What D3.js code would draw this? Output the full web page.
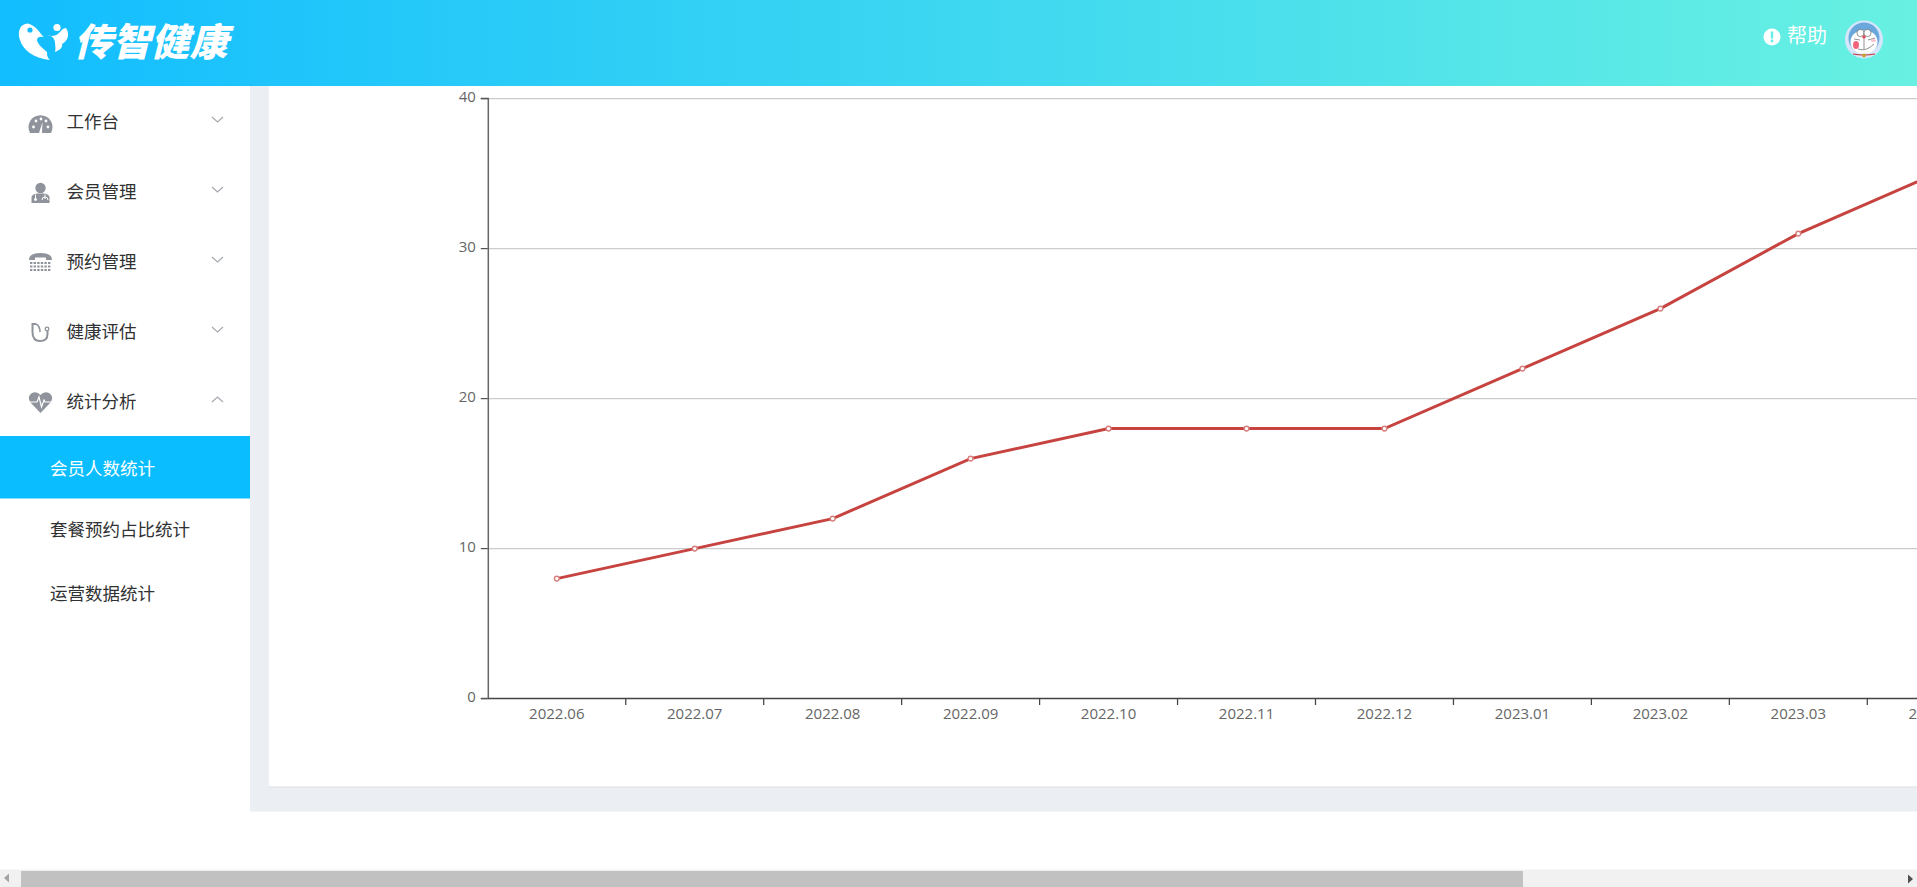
<!DOCTYPE html>
<html>
<head>
<meta charset="utf-8">
<title>会员人数统计</title>
<script src="https://cdn.jsdelivr.net/npm/d3@7"></script>
<style>
html, body { margin: 0; padding: 0; overflow: hidden; background: #fff; }
svg { display: block; font-family: "Noto Sans CJK SC", "Noto Sans", sans-serif; }
.tick-label { font-family: "Open Sans", "Noto Sans", sans-serif; font-size: 15px; fill: #666; }
</style>
</head>
<body>
<svg id="svg" width="1917" height="887"></svg>
<script>
// chart data
var months = ["2022.06","2022.07","2022.08","2022.09","2022.10","2022.11","2022.12","2023.01","2023.02","2023.03","2023.04"];
var members = [8,10,12,16,18,18,18,22,26,31,35];
var yTicks = [0,10,20,30,40];

// menu text
var menuItems = ["工作台","会员管理","预约管理","健康评估","统计分析"];
var subItems = ["会员人数统计","套餐预约占比统计","运营数据统计"];

var svg = d3.select("#svg");

// page background
var defs = svg.append("defs");
var grad = defs.append("linearGradient").attr("id", "head");
grad.append("stop").attr("offset", "0%").attr("stop-color", "#12bdff");
grad.append("stop").attr("offset", "100%").attr("stop-color", "#68f1e2");

svg.append("rect").attr("x", 250).attr("y", 86).attr("width", 1667).attr("height", 725.6).attr("fill", "#ebeef3");
svg.append("rect").attr("x", 269).attr("y", 60).attr("width", 1648).attr("height", 726.6).attr("fill", "#fff");
svg.append("line").attr("x1", 268.5).attr("x2", 268.5).attr("y1", 86).attr("y2", 786).attr("stroke", "#eef0f4");
svg.append("line").attr("x1", 269).attr("x2", 1917).attr("y1", 787).attr("y2", 787).attr("stroke", "#e0e3e8");

// chart
var x = d3.scaleBand().domain(months).range([487.8, 487.8 + 137.95 * months.length]);
var y = d3.scaleLinear().domain([0, 40]).range([698.6, 98.6]);

var chart = svg.append("g");

chart.selectAll(".grid").data(yTicks.slice(1)).enter().append("line")
    .attr("class", "grid")
    .attr("x1", 488).attr("x2", 1917)
    .attr("y1", function(d) { return y(d); })
    .attr("y2", function(d) { return y(d); })
    .attr("stroke", "#ccc").attr("stroke-width", 1.25);

var yAxis = chart.append("g").attr("transform", "translate(487.8,-0.5)")
    .call(d3.axisLeft(y).tickValues(yTicks).tickSize(7).tickPadding(5));
yAxis.select(".domain").attr("stroke", "#666").attr("stroke-width", 1.5);
yAxis.selectAll(".tick line").attr("stroke", "#555").attr("stroke-width", 1.25);
yAxis.selectAll("text").attr("class", "tick-label").attr("dy", "0.2em");

var xAxis = chart.append("g").attr("transform", "translate(0,698.1)")
    .call(d3.axisBottom(x).tickSize(0).tickPadding(10));
xAxis.select(".domain").attr("stroke", "#444").attr("stroke-width", 1.5);
xAxis.selectAll("text").attr("class", "tick-label");

// ticks sit between the bands
chart.selectAll(".band-tick").data(months).enter().append("line")
    .attr("class", "band-tick")
    .attr("x1", function(d) { return x(d) + x.bandwidth(); })
    .attr("x2", function(d) { return x(d) + x.bandwidth(); })
    .attr("y1", 698.5).attr("y2", 705)
    .attr("stroke", "#444").attr("stroke-width", 1.25);

var line = d3.line()
    .x(function(d, i) { return x(months[i]) + x.bandwidth() / 2; })
    .y(function(d) { return y(d); });

chart.append("path").datum(members)
    .attr("d", line)
    .attr("fill", "none")
    .attr("stroke", "#c64340")
    .attr("stroke-width", 3);

chart.selectAll(".dot").data(members).enter().append("circle")
    .attr("class", "dot")
    .attr("cx", function(d, i) { return x(months[i]) + x.bandwidth() / 2; })
    .attr("cy", function(d) { return y(d); })
    .attr("r", 2.4)
    .attr("fill", "#fff")
    .attr("stroke", "#d9807d")
    .attr("stroke-width", 1.4);

// sidebar
svg.append("rect").attr("x", 0).attr("y", 86).attr("width", 250).attr("height", 725).attr("fill", "#fff");
svg.append("rect").attr("x", 0).attr("y", 436).attr("width", 250).attr("height", 62.5).attr("fill", "#0abdff");

var menuY = [122, 192, 262, 332, 402];
var subY = [468.7, 530, 593.7];

svg.selectAll(".menu").data(menuItems).enter().append("text")
    .attr("class", "menu")
    .attr("x", 66.5)
    .attr("y", function(d, i) { return menuY[i]; })
    .attr("dy", "0.36em")
    .attr("font-size", 17.5)
    .attr("fill", "#303133")
    .text(function(d) { return d; });

svg.selectAll(".sub").data(subItems).enter().append("text")
    .attr("class", "sub")
    .attr("x", 50)
    .attr("y", function(d, i) { return subY[i]; })
    .attr("dy", "0.36em")
    .attr("font-size", 17.5)
    .attr("fill", function(d, i) { return i == 0 ? "#fff" : "#303133"; })
    .text(function(d) { return d; });

// chevrons
menuItems.forEach(function(m, i) {
    var cy = menuY[i] - 3;
    var d = i == 4 ? "M212," + (cy + 3) + "L217.5," + (cy - 2) + "L223," + (cy + 3)
                   : "M212," + (cy - 2) + "L217.5," + (cy + 3) + "L223," + (cy - 2);
    svg.append("path").attr("d", d).attr("fill", "none").attr("stroke", "#a3a7ae").attr("stroke-width", 1.1);
});

// menu icons
var iconGray = "#8f939b";
var ic = svg.append("g").attr("fill", iconGray);
// gauge
ic.append("path").attr("d", "M30,133 A12,12 0 1 1 51,133 Z");
ic.selectAll(".g-dot").data([[33.5,127],[36,121],[41,119],[46,121],[48,127]]).enter().append("circle")
    .attr("cx", function(d) { return d[0]; }).attr("cy", function(d) { return d[1]; }).attr("r", 1.4).attr("fill", "#fff");
ic.append("path").attr("d", "M39,133 L42.5,122 L42,133 Z").attr("fill", "#fff");
// doctor
ic.append("circle").attr("cx", 40.5).attr("cy", 188).attr("r", 5.2);
ic.append("path").attr("d", "M31.5,203 V197 Q32,194 37,193.5 H44 Q49,194 49.5,197 V203 Z");
svg.append("path").attr("d", "M35.5,198 V194.5 M45,199 V194.5 M42,200 Q42,197 45,197 Q48,197 48,200")
    .attr("fill", "none").attr("stroke", "#fff").attr("stroke-width", 1);
ic.append("circle").attr("cx", 35.5).attr("cy", 199.5).attr("r", 1.4).attr("fill", "#fff");
// phone
ic.append("path").attr("d", "M29,260 Q29,253 40.5,253 Q52,253 52,260 H46 V257.5 H35 V260 Z");
ic.selectAll(".p-row").data([263, 266.5, 270]).enter().append("path")
    .attr("d", function(d) { return "M30," + d + " H51"; })
    .attr("stroke", iconGray).attr("stroke-width", 2.2).attr("stroke-dasharray", "2.4 1.2");
// stethoscope
svg.append("path").attr("d", "M36,324 H32.5 V332 Q32.5,341 40,341 Q47.5,341 47.5,334 V331")
    .attr("fill", "none").attr("stroke", iconGray).attr("stroke-width", 2);
svg.append("path").attr("d", "M36,324 Q40,326 40,332")
    .attr("fill", "none").attr("stroke", iconGray).attr("stroke-width", 1.6);
svg.append("circle").attr("cx", 47).attr("cy", 329).attr("r", 1.8).attr("fill", "none").attr("stroke", iconGray).attr("stroke-width", 1.3);
// heart
ic.append("path").attr("d", "M40.5,413 L30,402 Q27,396 32,393 Q37,391 40.5,395 Q44,391 49,393 Q54,396 51,402 Z");
svg.append("path").attr("d", "M29,402 H37 L39,397 L41.5,407 L44,400 L45,402 H52")
    .attr("fill", "none").attr("stroke", "#fff").attr("stroke-width", 1.2);

// header
svg.append("rect").attr("x", 0).attr("y", 0).attr("width", 1917).attr("height", 86).attr("fill", "url(#head)");

// logo mark
var logo = svg.append("g").attr("fill", "#fff");
logo.append("path").attr("d", "M28,23.5 C20,23.5 17,32 20,40 C23,50 33,58 50,60 C47,57 47,55 47,52 C42,48 37,43 37,40 C37,37 40,36 44,37 C40,34 37,26 28,23.5 Z");
logo.append("circle").attr("cx", 30).attr("cy", 30).attr("r", 2.6).attr("fill", "#14bdff");
logo.append("path").attr("d", "M47,35 C52,37 56,36 59,33 C61,31 63,28 66,28 C70,34 68,41 62,44 C63,47 60,50 55,52 C56,48 55,45 55,43 C55,38 51,35 47,35 Z");
logo.append("circle").attr("cx", 57).attr("cy", 27.5).attr("r", 3.6);
svg.append("text")
    .attr("transform", "translate(74,56) skewX(-14)")
    .attr("font-size", 38.5)
    .attr("font-weight", 900)
    .attr("fill", "#fff")
    .text("传智健康");

// help + avatar
svg.append("circle").attr("cx", 1772).attr("cy", 37).attr("r", 8.5).attr("fill", "#fff");
svg.append("rect").attr("x", 1770.8).attr("y", 31.5).attr("width", 2.4).attr("height", 7).attr("fill", "#62eee4");
svg.append("circle").attr("cx", 1772).attr("cy", 41).attr("r", 1.4).attr("fill", "#62eee4");
svg.append("text").attr("x", 1787).attr("y", 36).attr("dy", "0.36em")
    .attr("font-size", 20).attr("fill", "#fff").text("帮助");

svg.append("circle").attr("cx", 1864).attr("cy", 39.5).attr("r", 19).attr("fill", "#d6e6fa");
svg.append("circle").attr("cx", 1864).attr("cy", 38).attr("r", 15.5).attr("fill", "#6aa8dc");
svg.append("ellipse").attr("cx", 1864).attr("cy", 42).attr("rx", 13.5).attr("ry", 12).attr("fill", "#fff");
svg.append("circle").attr("cx", 1860.5).attr("cy", 33).attr("r", 3.6).attr("fill", "#fff").attr("stroke", "#666").attr("stroke-width", 0.7);
svg.append("circle").attr("cx", 1867.5).attr("cy", 33).attr("r", 3.6).attr("fill", "#fff").attr("stroke", "#666").attr("stroke-width", 0.7);
svg.append("circle").attr("cx", 1864).attr("cy", 37).attr("r", 1.7).attr("fill", "#e0455a");
svg.append("path").attr("d", "M1864,39 V49 M1858,49 Q1866,52 1874,44 M1854,39 L1860,40 M1868,40 L1875,38")
    .attr("fill", "none").attr("stroke", "#666").attr("stroke-width", 0.7);
svg.append("ellipse").attr("cx", 1856).attr("cy", 45).attr("rx", 3).attr("ry", 4).attr("fill", "#f2647c");
svg.append("ellipse").attr("cx", 1873.5).attr("cy", 40.5).attr("rx", 2.6).attr("ry", 1.6).attr("fill", "#f9c2cb");
svg.append("path").attr("d", "M1853,54 Q1864,56 1875,54").attr("fill", "none").attr("stroke", "#c23531").attr("stroke-width", 1.2);
svg.append("circle").attr("cx", 1864).attr("cy", 55.5).attr("r", 2).attr("fill", "#c9a13a");

// horizontal scrollbar
svg.append("rect").attr("x", 0).attr("y", 869.5).attr("width", 1917).attr("height", 17.5).attr("fill", "#f1f1f1");
svg.append("rect").attr("x", 21).attr("y", 871).attr("width", 1502).attr("height", 16).attr("fill", "#c1c1c1");
svg.append("path").attr("d", "M4,878 L9,873.5 V882.5 Z").attr("fill", "#a3a3a3");
svg.append("path").attr("d", "M1913,879 L1908,874.5 V883.5 Z").attr("fill", "#505050");
</script>
</body>
</html>
